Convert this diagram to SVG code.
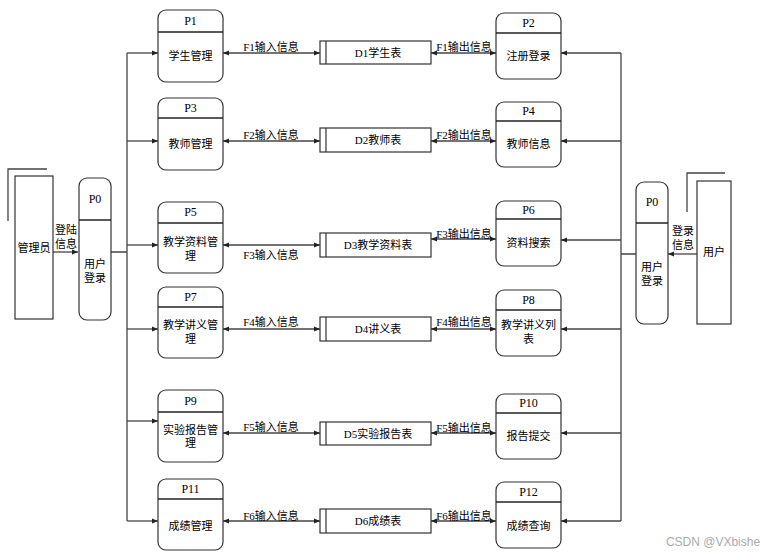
<svg xmlns="http://www.w3.org/2000/svg" width="775" height="556" viewBox="0 0 775 556">
<style>
text{font-family:"Liberation Serif","Noto Sans CJK SC",serif;font-size:11px;fill:#000;text-anchor:middle}
.pl{font-size:12px}
.box{fill:#fff;stroke:#333;stroke-width:1.2}
.div{stroke:#222;stroke-width:1.5}
.ln{fill:none;stroke:#444;stroke-width:1.3}
.wm{font-family:"Liberation Sans",sans-serif;font-size:12px;fill:#aaa}
</style>
<defs>
<marker id="ah" viewBox="0 0 10 10" refX="10" refY="5" markerWidth="6" markerHeight="6" orient="auto-start-reverse" markerUnits="userSpaceOnUse">
<path d="M0,1 L10,5 L0,9 z" fill="#222"/>
</marker>
</defs>
<rect width="775" height="556" fill="#fff"/>

<g id="connectors">
<!-- left bus -->
<path class="ln" d="M111,252 H127 M127,53 V521"/>
<path class="ln" d="M127,53 H158" marker-end="url(#ah)"/>
<path class="ln" d="M127,141 H158" marker-end="url(#ah)"/>
<path class="ln" d="M127,245 H158" marker-end="url(#ah)"/>
<path class="ln" d="M127,329 H158" marker-end="url(#ah)"/>
<path class="ln" d="M127,421 H158" marker-end="url(#ah)"/>
<path class="ln" d="M127,521 H158" marker-end="url(#ah)"/>
<path class="ln" d="M53,252 H78" marker-end="url(#ah)"/>
<!-- right bus -->
<path class="ln" d="M636,254 H621 M621,53 V521"/>
<path class="ln" d="M621,53 H561" marker-end="url(#ah)"/>
<path class="ln" d="M621,141 H561" marker-end="url(#ah)"/>
<path class="ln" d="M621,240 H561" marker-end="url(#ah)"/>
<path class="ln" d="M621,329 H561" marker-end="url(#ah)"/>
<path class="ln" d="M621,433 H561" marker-end="url(#ah)"/>
<path class="ln" d="M621,521 H561" marker-end="url(#ah)"/>
<path class="ln" d="M697,254 H668" marker-end="url(#ah)"/>
<!-- P to D -->
<path class="ln" d="M223,53 H320" marker-start="url(#ah)" marker-end="url(#ah)"/>
<path class="ln" d="M431,53 H496" marker-start="url(#ah)" marker-end="url(#ah)"/>
<path class="ln" d="M223,141 H320" marker-start="url(#ah)" marker-end="url(#ah)"/>
<path class="ln" d="M431,141 H496" marker-start="url(#ah)" marker-end="url(#ah)"/>
<path class="ln" d="M223,245 H320" marker-start="url(#ah)" marker-end="url(#ah)"/>
<path class="ln" d="M431,239 H496" marker-start="url(#ah)" marker-end="url(#ah)"/>
<path class="ln" d="M223,329 H320" marker-start="url(#ah)" marker-end="url(#ah)"/>
<path class="ln" d="M431,329 H496" marker-start="url(#ah)" marker-end="url(#ah)"/>
<path class="ln" d="M223,433 H320" marker-start="url(#ah)" marker-end="url(#ah)"/>
<path class="ln" d="M431,433 H496" marker-start="url(#ah)" marker-end="url(#ah)"/>
<path class="ln" d="M223,521 H320" marker-start="url(#ah)" marker-end="url(#ah)"/>
<path class="ln" d="M431,521 H496" marker-start="url(#ah)" marker-end="url(#ah)"/>
<!-- labels -->
<text x="66" y="234">登陆</text>
<text x="66" y="248">信息</text>
<text x="683" y="235">登录</text>
<text x="683" y="249">信息</text>
<text x="271" y="51">F1输入信息</text>
<text x="464" y="51">F1输出信息</text>
<text x="271" y="139">F2输入信息</text>
<text x="464" y="139">F2输出信息</text>
<text x="271" y="259">F3输入信息</text>
<text x="464" y="238">F3输出信息</text>
<text x="271" y="326">F4输入信息</text>
<text x="464" y="326">F4输出信息</text>
<text x="271" y="431">F5输入信息</text>
<text x="464" y="432">F5输出信息</text>
<text x="271" y="520">F6输入信息</text>
<text x="464" y="520">F6输出信息</text>
</g>

<g id="admin">
<path class="ln" d="M8,221 V169 H47"/>
<rect class="box" x="15" y="176" width="38" height="143"/>
<text x="34" y="252">管理员</text>
</g>
<g id="P0L">
<rect class="box" x="79" y="178" width="32" height="142" rx="8"/>
<line class="div" x1="79" y1="220" x2="111" y2="220"/>
<text class="pl" x="95" y="203">P0</text>
<text x="95" y="268">用户</text>
<text x="95" y="282">登录</text>
</g>
<g id="user">
<path class="ln" d="M687,212 V173 H725"/>
<rect class="box" x="697" y="181" width="34" height="143"/>
<text x="714" y="256">用户</text>
</g>
<g id="P0R">
<rect class="box" x="636" y="182" width="32" height="142" rx="8"/>
<line class="div" x1="636" y1="223" x2="668" y2="223" stroke-width="2"/>
<text class="pl" x="652" y="206">P0</text>
<text x="652" y="271">用户</text>
<text x="652" y="285">登录</text>
</g>

<g id="P1">
<rect class="box" x="158" y="10" width="65" height="72" rx="8"/>
<line class="div" x1="158" y1="32" x2="223" y2="32"/>
<text class="pl" x="190.5" y="25">P1</text>
<text x="190.5" y="60">学生管理</text>
</g>
<g id="P3">
<rect class="box" x="158" y="98" width="65" height="72" rx="8"/>
<line class="div" x1="158" y1="118" x2="223" y2="118"/>
<text class="pl" x="190.5" y="112">P3</text>
<text x="190.5" y="148">教师管理</text>
</g>
<g id="P5">
<rect class="box" x="158" y="202" width="65" height="71" rx="8"/>
<line class="div" x1="158" y1="223" x2="223" y2="223"/>
<text class="pl" x="190.5" y="216">P5</text>
<text x="190.5" y="246">教学资料管</text>
<text x="190.5" y="260">理</text>
</g>
<g id="P7">
<rect class="box" x="158" y="287" width="65" height="71" rx="8"/>
<line class="div" x1="158" y1="307" x2="223" y2="307"/>
<text class="pl" x="190.5" y="301">P7</text>
<text x="190.5" y="329">教学讲义管</text>
<text x="190.5" y="343">理</text>
</g>
<g id="P9">
<rect class="box" x="158" y="390" width="65" height="72" rx="8"/>
<line class="div" x1="158" y1="412" x2="223" y2="412"/>
<text class="pl" x="190.5" y="405">P9</text>
<text x="190.5" y="434">实验报告管</text>
<text x="190.5" y="447">理</text>
</g>
<g id="P11">
<rect class="box" x="158" y="479" width="65" height="71" rx="8"/>
<line class="div" x1="158" y1="499" x2="223" y2="499"/>
<text class="pl" x="190.5" y="493">P11</text>
<text x="190.5" y="530">成绩管理</text>
</g>

<g id="P2">
<rect class="box" x="496" y="13" width="65" height="66" rx="8"/>
<line class="div" x1="496" y1="33" x2="561" y2="33"/>
<text class="pl" x="528.5" y="27">P2</text>
<text x="528.5" y="60">注册登录</text>
</g>
<g id="P4">
<rect class="box" x="496" y="102" width="65" height="65" rx="8"/>
<line class="div" x1="496" y1="121" x2="561" y2="121"/>
<text class="pl" x="528.5" y="115">P4</text>
<text x="528.5" y="148">教师信息</text>
</g>
<g id="P6">
<rect class="box" x="496" y="201" width="65" height="65" rx="8"/>
<line class="div" x1="496" y1="219" x2="561" y2="219"/>
<text class="pl" x="528.5" y="214">P6</text>
<text x="528.5" y="247">资料搜索</text>
</g>
<g id="P8">
<rect class="box" x="496" y="290" width="65" height="66" rx="8"/>
<line class="div" x1="496" y1="310" x2="561" y2="310"/>
<text class="pl" x="528.5" y="304">P8</text>
<text x="528.5" y="329">教学讲义列</text>
<text x="528.5" y="343">表</text>
</g>
<g id="P10">
<rect class="box" x="496" y="394" width="65" height="65" rx="8"/>
<line class="div" x1="496" y1="413" x2="561" y2="413"/>
<text class="pl" x="528.5" y="407">P10</text>
<text x="528.5" y="440">报告提交</text>
</g>
<g id="P12">
<rect class="box" x="496" y="482" width="65" height="66" rx="8"/>
<line class="div" x1="496" y1="502" x2="561" y2="502"/>
<text class="pl" x="528.5" y="496">P12</text>
<text x="528.5" y="530">成绩查询</text>
</g>

<g id="D1">
<rect class="box" x="320" y="41" width="111" height="23"/>
<line class="box" x1="326" y1="41" x2="326" y2="64"/>
<text x="378" y="56.5">D1学生表</text>
</g>
<g id="D2">
<rect class="box" x="320" y="128" width="111" height="24"/>
<line class="box" x1="326" y1="128" x2="326" y2="152"/>
<text x="378" y="144">D2教师表</text>
</g>
<g id="D3">
<rect class="box" x="320" y="233" width="111" height="24"/>
<line class="box" x1="326" y1="233" x2="326" y2="257"/>
<text x="378" y="249">D3教学资料表</text>
</g>
<g id="D4">
<rect class="box" x="320" y="317" width="111" height="24"/>
<line class="box" x1="326" y1="317" x2="326" y2="341"/>
<text x="378" y="333">D4讲义表</text>
</g>
<g id="D5">
<rect class="box" x="320" y="422" width="111" height="23"/>
<line class="box" x1="326" y1="422" x2="326" y2="445"/>
<text x="378" y="437.5">D5实验报告表</text>
</g>
<g id="D6">
<rect class="box" x="320" y="509" width="111" height="24"/>
<line class="box" x1="326" y1="509" x2="326" y2="533"/>
<text x="378" y="525">D6成绩表</text>
</g>

<text class="wm" x="713" y="546">CSDN @VXbishe</text>
</svg>
